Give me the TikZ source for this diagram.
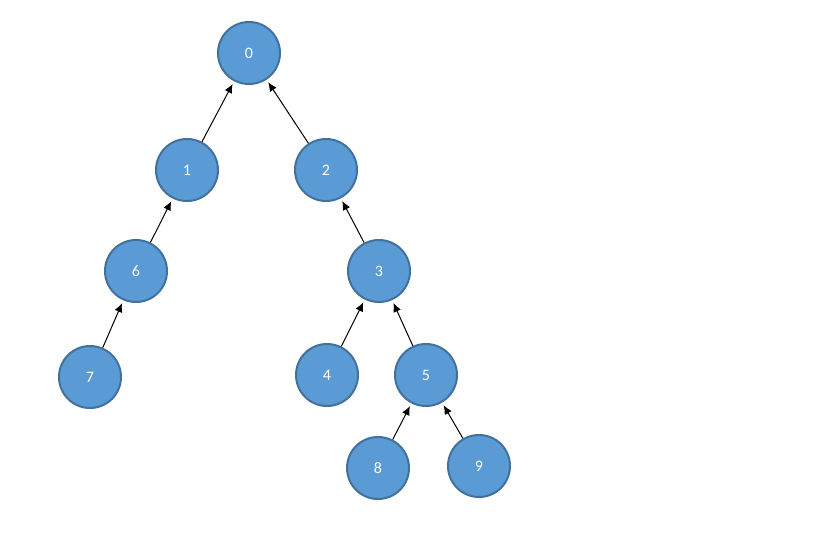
\documentclass[tikz,border=0pt]{standalone}
\usepackage{fontspec}
\setmainfont{Carlito}
\usetikzlibrary{arrows.meta}
\definecolor{nfill}{HTML}{5B9BD5}
\definecolor{nedge}{HTML}{41719C}
\begin{document}
\begin{tikzpicture}[x=1pt,y=-1pt,
  tn/.style={circle,fill=nfill,draw=nedge,line width=2pt,minimum size=62pt,inner sep=0pt,text=white,font=\fontsize{16}{18}\selectfont},
  arr/.style={-{Latex[length=9pt,width=8pt]},line width=1pt,shorten >=3pt}]
\useasboundingbox (0,0) rectangle (835,543);
\fill[white] (0,0) rectangle (835,543);
\node[tn] (n0) at (249,53) {0};
\node[tn] (n1) at (187,170) {1};
\node[tn] (n2) at (326,170) {2};
\node[tn] (n6) at (136,271) {6};
\node[tn] (n3) at (379,271) {3};
\node[tn] (n7) at (90,377) {7};
\node[tn] (n4) at (327,375) {4};
\node[tn] (n5) at (426,375) {5};
\node[tn] (n8) at (378,468) {8};
\node[tn] (n9) at (479,466) {9};
\draw[arr] (n1) -- (n0);
\draw[arr] (n2) -- (n0);
\draw[arr] (n6) -- (n1);
\draw[arr] (n7) -- (n6);
\draw[arr] (n3) -- (n2);
\draw[arr] (n4) -- (n3);
\draw[arr] (n5) -- (n3);
\draw[arr] (n8) -- (n5);
\draw[arr] (n9) -- (n5);
\end{tikzpicture}
\end{document}
